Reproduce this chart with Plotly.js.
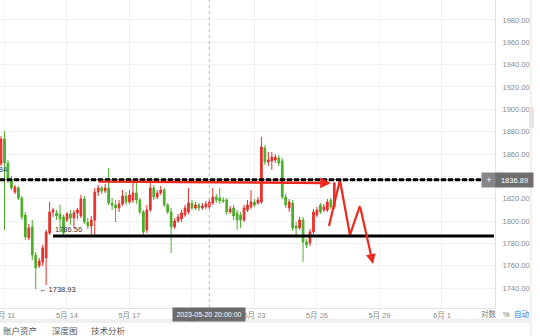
<!DOCTYPE html>
<html><head><meta charset="utf-8">
<script src="https://cdn.plot.ly/plotly-3.0.1.min.js"></script>
<style>html,body{margin:0;padding:0;background:#fff;overflow:hidden}#chart{width:540px;height:336px}</style>
</head><body><div id="chart"></div>
<script>
// 4h candles starting 2023-05-10 20:00
const startTime = Date.UTC(2023, 4, 10, 20);
const opens = [1851.1,1873.5,1852.0,1836.7,1826.0,1829.6,1820.6,1805.4,1784.8,1794.7,1769.6,1759.8,1763.3,1766.9,1789.3,1808.1,1807.2,1806.3,1803.6,1800.9,1806.3,1802.7,1807.2,1804.5,1819.7,1799.1,1795.6,1800.9,1826.0,1829.6,1826.9,1829.6,1816.1,1814.4,1811.7,1815.3,1822.4,1817.0,1818.8,1825.1,1818.8,1808.1,1792.0,1809.9,1829.6,1821.5,1825.1,1827.8,1814.4,1808.1,1794.7,1800.0,1801.8,1805.4,1808.1,1816.1,1811.7,1814.4,1811.7,1812.6,1812.6,1816.1,1821.5,1820.6,1818.8,1818.8,1808.1,1811.7,1807.2,1805.4,1800.9,1809.9,1812.6,1817.0,1816.1,1817.0,1865.4,1852.9,1853.7,1854.6,1856.4,1853.7,1821.5,1811.7,1816.1,1795.6,1793.8,1800.9,1781.2,1780.3,1790.2,1805.4,1814.4,1809.9,1809.9,1818.8,1812.6];
const highs = [1876.2,1880.6,1854.6,1840.3,1832.3,1831.4,1822.4,1808.1,1797.4,1800.9,1772.3,1766.9,1778.6,1792.0,1817.0,1811.7,1809.9,1814.4,1805.4,1808.1,1809.9,1809.9,1811.7,1823.3,1822.4,1802.7,1804.5,1829.6,1832.3,1831.4,1833.1,1847.5,1820.6,1818.8,1818.8,1827.8,1826.0,1827.8,1836.7,1836.7,1820.6,1809.9,1814.4,1834.9,1832.3,1827.8,1831.4,1829.6,1816.1,1811.7,1802.7,1806.3,1809.9,1814.4,1829.6,1818.8,1817.0,1816.1,1816.1,1817.9,1819.7,1829.6,1824.2,1829.6,1821.5,1820.6,1813.5,1814.4,1809.9,1808.1,1814.4,1818.8,1827.8,1819.7,1821.5,1875.3,1868.1,1861.8,1861.8,1860.0,1859.1,1856.4,1824.2,1819.7,1818.8,1799.1,1803.6,1803.6,1783.9,1792.9,1810.8,1812.6,1816.1,1815.3,1819.7,1820.6,1834.9];
const lows = [1849.3,1792.0,1834.0,1827.8,1824.2,1818.8,1800.9,1783.0,1783.0,1765.1,1738.9,1758.0,1759.8,1742.7,1787.5,1803.6,1800.9,1790.2,1786.6,1799.1,1796.5,1793.8,1801.8,1802.7,1797.4,1792.9,1787.5,1786.6,1822.4,1824.2,1825.1,1814.4,1809.9,1799.1,1808.1,1813.5,1814.4,1815.3,1816.1,1815.3,1806.3,1787.5,1789.3,1808.1,1818.8,1819.7,1823.3,1812.6,1806.3,1771.4,1792.9,1798.2,1799.1,1803.6,1806.3,1809.9,1809.9,1809.0,1809.9,1810.8,1810.8,1814.4,1816.1,1815.3,1816.1,1805.4,1806.3,1800.9,1792.0,1793.8,1799.1,1808.1,1810.8,1812.6,1814.4,1815.3,1850.2,1849.3,1845.7,1852.0,1849.3,1819.7,1811.7,1808.1,1791.1,1784.8,1792.0,1763.3,1775.9,1777.7,1788.4,1803.6,1806.3,1808.1,1808.1,1810.8,1810.8];
const closes = [1873.5,1852.0,1836.7,1829.6,1830.5,1820.6,1803.6,1785.7,1793.8,1769.6,1758.0,1764.2,1775.9,1790.2,1808.1,1809.9,1804.5,1801.8,1789.3,1806.3,1802.7,1807.2,1809.9,1819.7,1799.1,1795.6,1800.9,1826.0,1829.6,1826.9,1829.6,1816.1,1814.4,1811.7,1815.3,1822.4,1817.0,1823.3,1825.1,1818.8,1808.1,1790.2,1809.9,1829.6,1821.5,1825.1,1827.8,1814.4,1808.1,1794.7,1800.0,1803.6,1807.2,1811.7,1816.1,1811.7,1814.4,1811.7,1813.5,1815.3,1817.0,1821.5,1818.8,1817.9,1817.9,1808.1,1810.8,1804.5,1800.9,1800.9,1811.7,1814.4,1817.0,1814.4,1818.8,1866.3,1852.9,1854.6,1857.3,1857.3,1852.0,1821.5,1814.4,1817.0,1793.8,1793.8,1800.9,1781.2,1778.6,1790.2,1808.1,1809.9,1808.1,1812.6,1817.0,1812.6,1834.0];

const tickDates = ['2023-05-11','2023-05-14','2023-05-17','2023-05-20','2023-05-23','2023-05-26','2023-05-29','2023-06-01'];
// the 5月 20 label sits under the crosshair time box, so it is not shown
const tickLabels = ['5月 11','5月 14','5月 17','','5月 23','5月 26','5月 29','6月 1'];
const priceTicks = [1740,1760,1780,1800,1820,1840,1860,1880,1900,1920,1940,1960,1980];

const lastPrice = 1836.89;
const supportPrice = 1786.56;
const supportStart = '2023-05-13 07:50';
const lowPrice = 1738.93;
const crosshairTime = '2023-05-20 20:00';
const crosshairLabel = '2023-05-20 20:00:00';

// hand-drawn red arrows (date, price)
const redArrowX = ['2023-05-15 10:30', '2023-05-26 16:10'];
const redArrowY = [1835.3, 1834.0];
const zigX = ['2023-05-26 13:50','2023-05-27 02:30','2023-05-27 14:00','2023-05-28 01:35','2023-05-28 16:35'];
const zigY = [1795.6, 1836.7, 1787.5, 1813.5, 1761.6];

const times = opens.map((_, i) => new Date(startTime + i * 4 * 3600e3).toISOString().slice(0,16).replace('T',' '));

const RED = '#e8312c', GREEN = '#4cae2a';
const FONT = 'Liberation Sans, Arial, Noto Sans CJK SC, sans-serif';

const traces = [
  {type:'candlestick', x: times, open: opens, high: highs, low: lows, close: closes,
   increasing:{line:{color:RED,width:1}, fillcolor:RED},
   decreasing:{line:{color:GREEN,width:1}, fillcolor:GREEN},
   whiskerwidth:0, hoverinfo:'skip', showlegend:false},
  {type:'scatter', mode:'lines', x: zigX.slice(0,4), y: zigY.slice(0,4),
   line:{color:'#ee2a1f', width:2.2}, hoverinfo:'skip', showlegend:false}
];

const xEnd = '2023-06-03 13:09';
const shapes = [
  {type:'line', xref:'x', yref:'paper', x0:crosshairTime, x1:crosshairTime, y0:0, y1:1, line:{color:'#b5b5b5', width:1, dash:'3px,3px'}},
  {type:'line', xref:'paper', yref:'y', x0:0, x1:1, y0:lastPrice, y1:lastPrice, line:{color:'#444', width:1}},
  {type:'line', xref:'paper', yref:'y', x0:0, x1:1, y0:lastPrice, y1:lastPrice, line:{color:'#000', width:3, dash:'5px,2px'}},
  {type:'line', xref:'x', yref:'y', x0:supportStart, x1:'2023-06-03 12:00', y0:supportPrice, y1:supportPrice, line:{color:'#000', width:3}},
  {type:'rect', xref:'paper', yref:'paper', x0:0, x1:530/495, y0:-11/308, y1:-15/308, fillcolor:'#efefef', line:{width:0}},
  {type:'rect', xref:'paper', yref:'paper', x0:188/495, x1:197/495, y0:-12/308, y1:-14/308, fillcolor:'#c8c8c8', line:{width:0}},
  {type:'line', xref:'paper', yref:'paper', x0:531/495, x1:531/495, y0:1, y1:-28/308, line:{color:'#e4e4e4', width:1}},
  {type:'rect', xref:'paper', yref:'paper', x0:529/495, x1:534/495, y0:(308-107)/308, y1:(308-128)/308, fillcolor:'#e6e6e6', line:{width:0}}
];

const txt = (o) => Object.assign({showarrow:false, xanchor:'center', yanchor:'middle'}, o);
const annotations = [
  {xref:'x', yref:'y', x:redArrowX[1], y:redArrowY[1], ax:redArrowX[0], ay:redArrowY[0], axref:'x', ayref:'y',
   text:'', showarrow:true, arrowhead:2, arrowsize:0.9, arrowwidth:2.4, arrowcolor:'#ee2a1f'},
  {xref:'x', yref:'y', x:zigX[4], y:zigY[4], ax:zigX[3], ay:zigY[3], axref:'x', ayref:'y',
   text:'', showarrow:true, arrowhead:2, arrowsize:0.9, arrowwidth:2.2, arrowcolor:'#ee2a1f'},
  txt({xref:'paper', yref:'y', x:489/495, y:lastPrice, text:'+', bgcolor:'#858585', width:12, height:12, font:{color:'#fff', size:9, family:FONT}}),
  txt({xref:'paper', yref:'y', x:1, y:lastPrice, text:lastPrice.toFixed(2), xanchor:'left', bgcolor:'#6e6e6e', width:35, height:12, font:{color:'#fff', size:7.5, family:FONT}}),
  txt({xref:'x', yref:'paper', x:crosshairTime, y:-6/308, text:crosshairLabel, bgcolor:'#6b6b6b', width:70, height:11, font:{color:'#fff', size:7, family:FONT}}),
  txt({xref:'paper', yref:'y', x:9/495, y:1845.7, text:'1837.84', xanchor:'right', font:{color:'#333', size:7.5, family:FONT}}),
  txt({xref:'x', yref:'y', x:supportStart, y:1792.6, text:supportPrice.toFixed(2), xanchor:'left', font:{color:'#333', size:7.5, family:FONT}}),
  txt({xref:'x', yref:'y', x:'2023-05-12 13:00', y:1739.1, text:'← ' + lowPrice.toFixed(2), xanchor:'left', font:{color:'#333', size:7.5, family:FONT}}),
  txt({xref:'paper', yref:'paper', x:489/495, y:-6/308, text:'对数', font:{color:'#777', size:7.5, family:FONT}}),
  txt({xref:'paper', yref:'paper', x:507/495, y:-6/308, text:'%', font:{color:'#777', size:7.5, family:FONT}}),
  txt({xref:'paper', yref:'paper', x:522/495, y:-6/308, text:'自动', font:{color:'#2f7fd6', size:7.5, family:FONT}}),
  txt({xref:'paper', yref:'paper', x:20/495, y:-23/308, text:'账户资产', font:{color:'#555', size:8.5, family:FONT}}),
  txt({xref:'paper', yref:'paper', x:65/495, y:-23/308, text:'深度图', font:{color:'#555', size:8.5, family:FONT}}),
  txt({xref:'paper', yref:'paper', x:108/495, y:-23/308, text:'技术分析', font:{color:'#555', size:8.5, family:FONT}})
];

const layout = {
  width:540, height:336, margin:{l:0, r:45, t:0, b:28, pad:0},
  paper_bgcolor:'#fff', plot_bgcolor:'#fff', showlegend:false,
  font:{family:FONT},
  xaxis:{type:'date', range:['2023-05-10 18:49', xEnd], rangeslider:{visible:false},
    tickmode:'array', tickvals:tickDates, ticktext:tickLabels, ticks:'', ticklabeloverflow:'allow',
    showgrid:true, gridcolor:'#eef2f3', gridwidth:1, zeroline:false,
    showline:true, linecolor:'#e2e2e2', linewidth:1,
    tickfont:{size:7.5, color:'#8a8a8a', family:FONT}, fixedrange:true},
  yaxis:{side:'right', range:[1722.1, 1997.9], tickmode:'array', tickvals:priceTicks,
    // 1840 label is covered by the last-price tag in the reference
    ticktext:priceTicks.map(v => v === 1840 ? '' : v.toFixed(2)), ticks:'', ticklabelstandoff:5,
    showgrid:true, gridcolor:'#eef2f3', gridwidth:1, zeroline:false,
    showline:true, linecolor:'#e2e2e2', linewidth:1,
    tickfont:{size:7.5, color:'#8a8a8a', family:FONT}, fixedrange:true},
  shapes: shapes, annotations: annotations
};

Plotly.newPlot('chart', traces, layout, {staticPlot:true, displayModeBar:false});
</script></body></html>
